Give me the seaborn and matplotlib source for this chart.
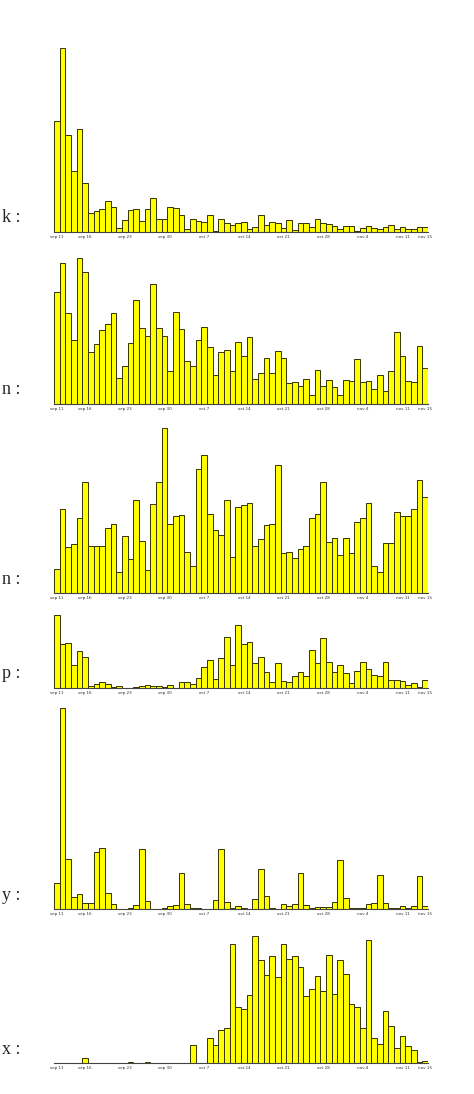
import matplotlib
matplotlib.use("Agg")
import matplotlib.pyplot as plt
import seaborn as sns
import pandas as pd
import numpy as np

labels = ["k :", "n :", "n :", "p :", "y :", "x :"]
tick_pos = [0, 5, 12, 19, 26, 33, 40, 47, 54, 61, 65]
tick_labels = ["sep 11", "sep 16", "sep 23", "sep 30", "oct 7", "oct 14",
               "oct 21", "oct 28", "nov 4", "nov 11", "nov 15"]

s1 = [334, 551, 291, 184, 308, 146, 58, 63, 68, 92, 75, 13, 35, 65, 70, 32, 68, 102,
      38, 38, 74, 72, 50, 8, 40, 34, 30, 52, 2, 40, 27, 20, 27, 30, 10, 16, 52, 22,
      30, 28, 12, 37, 7, 28, 28, 16, 40, 28, 23, 18, 10, 18, 18, 2, 12, 17, 12, 10,
      15, 22, 8, 16, 8, 10, 14, 14]
s2 = [337, 424, 272, 192, 437, 397, 157, 179, 222, 240, 272, 77, 115, 182, 312, 227,
      204, 360, 227, 204, 98, 277, 224, 130, 115, 192, 232, 170, 86, 155, 162, 98,
      187, 144, 200, 74, 92, 137, 93, 160, 139, 62, 67, 54, 74, 26, 102, 55, 72, 51,
      26, 72, 70, 134, 65, 69, 44, 86, 38, 98, 217, 144, 70, 65, 173, 108]
s3 = [73, 253, 138, 147, 226, 332, 140, 140, 140, 195, 207, 63, 170, 102, 279, 155,
      68, 268, 332, 495, 207, 230, 234, 123, 82, 373, 413, 237, 190, 173, 279, 107,
      258, 264, 270, 140, 162, 204, 208, 385, 120, 123, 105, 132, 140, 226, 237, 332,
      153, 164, 115, 166, 120, 213, 224, 270, 82, 63, 150, 149, 242, 230, 231, 253,
      338, 289]
s4 = [218, 132, 135, 68, 110, 93, 6, 12, 17, 12, 2, 6, 0, 1, 3, 5, 10, 6, 6, 2, 10,
      0, 17, 17, 12, 29, 63, 84, 27, 89, 153, 68, 189, 133, 138, 75, 93, 48, 18, 74,
      21, 18, 36, 48, 35, 114, 76, 150, 78, 48, 70, 44, 15, 50, 78, 57, 40, 36, 78,
      24, 23, 21, 9, 14, 2, 23]
s5 = [79, 602, 151, 37, 45, 17, 17, 170, 184, 48, 14, 0, 1, 3, 12, 179, 24, 0, 0, 4,
      9, 12, 109, 14, 2, 2, 0, 0, 27, 179, 20, 4, 10, 2, 0, 30, 121, 39, 2, 0, 14, 9,
      15, 107, 12, 2, 7, 7, 7, 20, 147, 34, 2, 4, 2, 15, 19, 103, 17, 2, 2, 9, 2, 10,
      99, 10]
s6 = [0, 0, 0, 0, 0, 15, 0, 0, 0, 0, 0, 0, 0, 3, 1, 0, 3, 0, 0, 0, 0, 0, 0, 0, 54, 0,
      0, 74, 54, 100, 105, 357, 167, 162, 205, 380, 308, 264, 321, 257, 357, 312, 321,
      288, 202, 221, 261, 216, 323, 207, 308, 267, 176, 167, 105, 370, 75, 57, 157,
      112, 44, 80, 51, 39, 3, 6]
series = [s1, s2, s3, s4, s5, s6]

W, H = 474, 1094
baselines = [232, 404, 593, 688, 909, 1063]
x0, x1 = 54, 428

sns.set_style("white")
fig = plt.figure(figsize=(W / 100, H / 100), dpi=100)

for lab, vals, base in zip(labels, series, baselines):
    vmax = max(vals)
    hpx = vmax / 3.0
    ax = fig.add_axes([x0 / W, (H - base) / H, (x1 - x0) / W, hpx / H])
    df = pd.DataFrame({"day": np.arange(len(vals)), "v": vals})
    sns.barplot(data=df, x="day", y="v", ax=ax, color="#ffff00", saturation=1,
                width=1.0, edgecolor="#333300", linewidth=0.7, native_scale=True)
    ax.set_xlim(-0.5, len(vals) - 0.5)
    ax.set_ylim(0, vmax)
    for sp in ["top", "right", "left"]:
        ax.spines[sp].set_visible(False)
    ax.spines["bottom"].set_color("#444444")
    ax.spines["bottom"].set_linewidth(0.8)
    ax.set_yticks([])
    ax.set_xticks(tick_pos)
    ax.set_xticklabels(tick_labels, fontsize=3, color="#333333")
    ax.tick_params(axis="x", length=1.5, width=0.5, pad=1)
    ax.set_xlabel("")
    ax.set_ylabel("")
    fig.text(21 / W, (H - base + 14) / H, lab, ha="right", va="center",
             fontsize=13, family="Liberation Serif")

fig.savefig("out.png", dpi=100)
